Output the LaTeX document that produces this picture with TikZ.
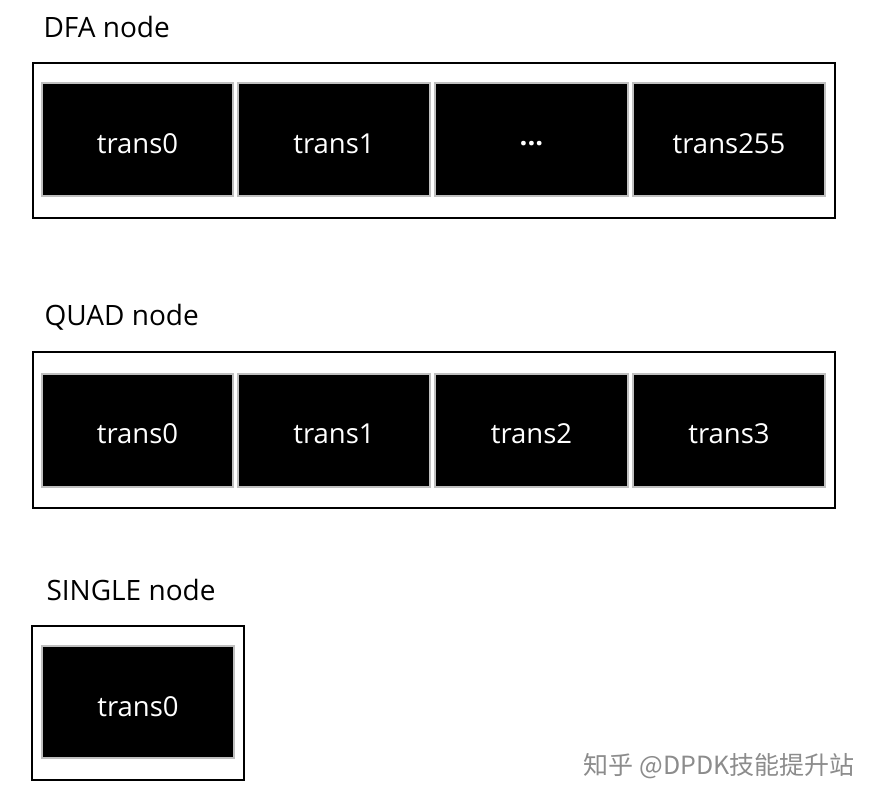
\documentclass[tikz,border=0pt]{standalone}
\usepackage{fontspec}
\setmainfont{Open Sans}
\newfontfamily\cjk{Noto Sans CJK SC}
\begin{document}
\begin{tikzpicture}[x=1pt,y=-1pt,
  outer/.style={draw=black,line width=2.5pt},
  cell/.style={draw=black!25,line width=2pt,fill=black},
  ctext/.style={text=white,font=\fontsize{27.5}{32}\selectfont},
  title/.style={anchor=west,font=\fontsize{28}{32}\selectfont}]
\useasboundingbox (0,0) rectangle (876,800);
\fill[white] (0,0) rectangle (876,800);
\node[title] (tdfa) at (40,27) {DFA node};
\draw[outer] (33,63) rectangle (835,218);
\foreach \a/\b/\t/\n in {42/233/trans0/d0,238/430/trans1/d1,435/628/{\textbf{...}}/d2,633/825/trans255/d3}{
  \draw[cell] (\a,83) rectangle (\b,196);
  \node[ctext] (\n) at ({(\a+\b)/2},144) {\t};
}
\node[title] (tquad) at (41,317) {QUAD node};
\draw[outer] (33,352) rectangle (835,508);
\foreach \a/\b/\t/\n in {42/233/trans0/q0,238/430/trans1/q1,435/628/trans2/q2,633/825/trans3/q3}{
  \draw[cell] (\a,374) rectangle (\b,487);
  \node[ctext] (\n) at ({(\a+\b)/2},434) {\t};
}
\node[title] (tsingle) at (43,590) {SINGLE node};
\draw[outer] (32,626) rectangle (244,780);
\draw[cell] (42,646) rectangle (234,758);
\node[ctext] (s0) at (138,707) {trans0};
\node[anchor=east,text=black!45,font=\cjk\fontsize{25}{30}\selectfont] (wm) at (858,766) {知乎 @DPDK技能提升站};
\end{tikzpicture}
\end{document}
